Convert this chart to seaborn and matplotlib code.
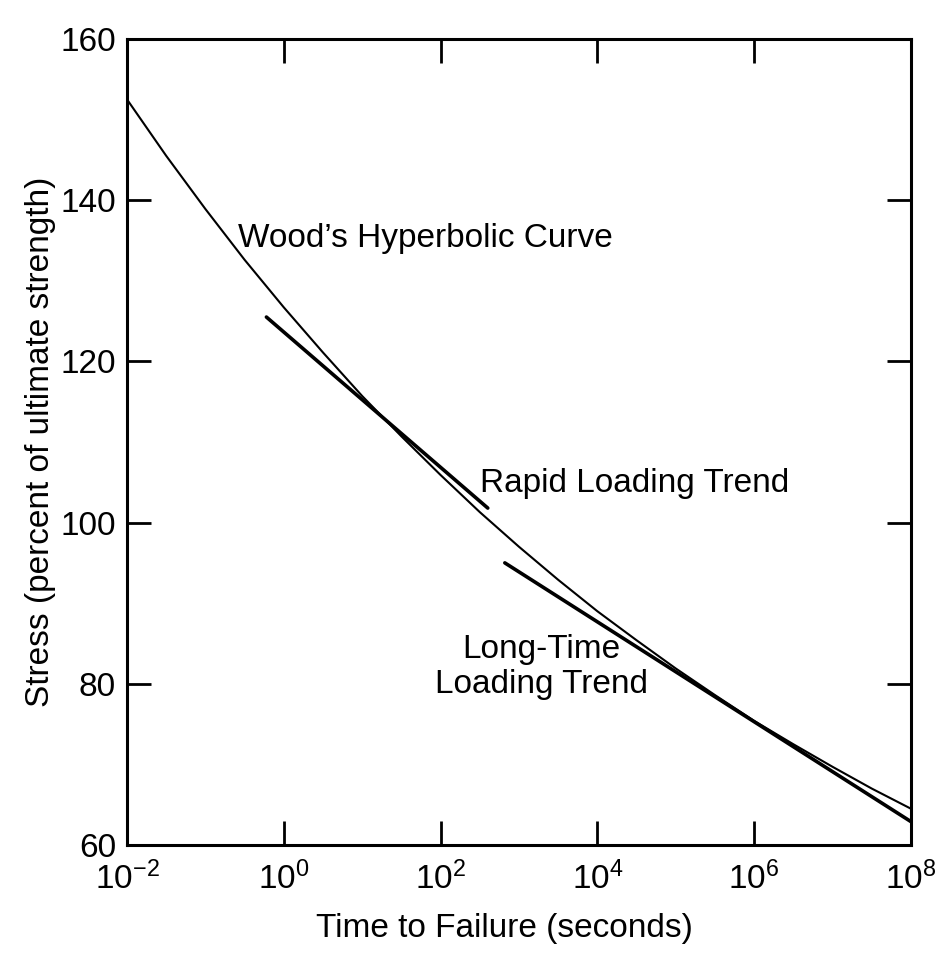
import pandas as pd
import matplotlib
matplotlib.use('Agg')
import matplotlib.pyplot as plt
import seaborn as sns

# Wood's hyperbolic curve, read at every half decade
wood_time = [1e-2, 10**-1.5, 1e-1, 10**-0.5, 1e0, 10**0.5, 1e1, 10**1.5, 1e2, 10**2.5,
             1e3, 10**3.5, 1e4, 10**4.5, 1e5, 10**5.5, 1e6, 10**6.5, 1e7, 10**7.5, 1e8]
wood_stress = [152.5, 145.5, 138.9, 132.6, 126.7, 121.1, 115.7, 110.7, 105.9, 101.3,
               97.0, 92.9, 89.0, 85.4, 81.9, 78.6, 75.4, 72.5, 69.7, 67.0, 64.5]

# rapid loading trend (straight on the log axis)
rapid_time = [0.6, 400]
rapid_stress = [125.5, 101.8]

# long-time loading trend
long_time = [660, 1e8]
long_stress = [95.0, 62.9]

wood = pd.DataFrame({'time': wood_time, 'stress': wood_stress})
rapid = pd.DataFrame({'time': rapid_time, 'stress': rapid_stress})
longt = pd.DataFrame({'time': long_time, 'stress': long_stress})

sns.set_style('ticks')
plt.rcParams['font.family'] = ['Liberation Sans', 'DejaVu Sans']
plt.rcParams['mathtext.fontset'] = 'custom'
plt.rcParams['mathtext.rm'] = 'Liberation Sans'
plt.rcParams['mathtext.it'] = 'Liberation Sans:italic'
plt.rcParams['text.color'] = 'black'
plt.rcParams['axes.labelcolor'] = 'black'

fig, ax = plt.subplots(figsize=(9.41, 9.65), dpi=100)
fig.subplots_adjust(left=0.135, right=0.968, top=0.9596, bottom=0.1244)

sns.lineplot(data=wood, x='time', y='stress', color='black', linewidth=1.5, ax=ax)
sns.lineplot(data=rapid, x='time', y='stress', color='black', linewidth=2.6, ax=ax)
sns.lineplot(data=longt, x='time', y='stress', color='black', linewidth=2.6, ax=ax)

ax.set_xscale('log')
ax.set_xlim(1e-2, 1e8)
ax.set_ylim(60, 160)
ax.set_xticks([1e-2, 1e0, 1e2, 1e4, 1e6, 1e8])
ax.set_yticks([60, 80, 100, 120, 140, 160])
ax.minorticks_off()
ax.tick_params(axis='both', which='major', direction='in', length=17, width=2,
               labelsize=24, top=True, right=True, colors='black')
ax.tick_params(axis='x', pad=12)
ax.tick_params(axis='y', pad=8)

for sp in ax.spines.values():
    sp.set_linewidth(2.2)
    sp.set_color('black')

ax.set_xlabel('Time to Failure (seconds)', fontsize=24, labelpad=14)
ax.set_ylabel('Stress (percent of ultimate strength)', fontsize=24, labelpad=3)
ax.xaxis.set_label_coords(0.481, -0.085)

ax.text(0.26, 135.3, 'Wood\u2019s Hyperbolic Curve', fontsize=24, va='center', ha='left')
ax.text(316, 104.8, 'Rapid Loading Trend', fontsize=24, va='center', ha='left')
ax.text(1950, 82.1, 'Long-Time\nLoading Trend', fontsize=24, va='center', ha='center',
        linespacing=1.15)

plt.savefig('out.png', dpi=100)
